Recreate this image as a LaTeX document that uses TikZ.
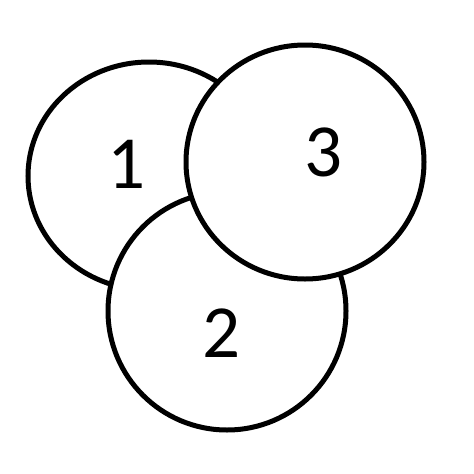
\documentclass[tikz,border=0pt]{standalone}
\usepackage{fontspec}
\setmainfont{Carlito}
\usetikzlibrary{shapes.geometric}
\begin{document}
\begin{tikzpicture}[x=1pt,y=-1pt,
  ring/.style={draw=black,fill=white,line width=5pt,ellipse,inner sep=0pt,outer sep=0pt},
  lbl/.style={font=\fontsize{75}{80}\selectfont,inner sep=0pt}]
\useasboundingbox[fill=white] (0,0) rectangle (474,474);
\node[ring,minimum width=242pt,minimum height=228pt] (c1) at (149,176) {};
\node[ring,minimum width=238pt,minimum height=238pt] (c2) at (227,311) {};
\node[ring,minimum width=238pt,minimum height=234pt] (c3) at (305,162) {};
\node[lbl] (l1) at (127,164) {1};
\node[lbl] (l3) at (324,152) {3};
\node[lbl] (l2) at (222,333) {2};
\end{tikzpicture}
\end{document}
